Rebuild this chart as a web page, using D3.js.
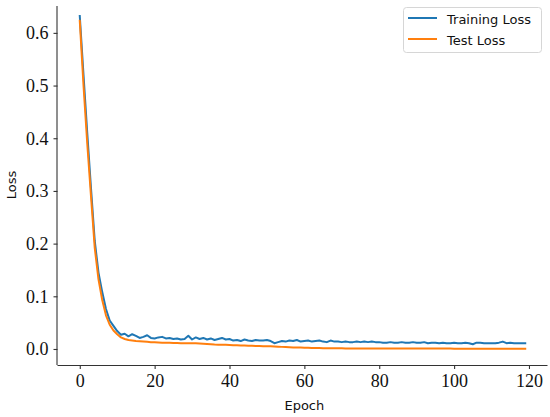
<!DOCTYPE html>
<html>
<head>
<meta charset="utf-8">
<script src="https://cdn.jsdelivr.net/npm/d3@7"></script>
<style>
  body { margin: 0; background: white; }
</style>
</head>
<body>
<div id="graphe"></div>
<script>
// Données
const epochs = d3.range(0, 120);

const trainingLoss = [
  0.632, 0.520, 0.410, 0.305, 0.205, 0.145, 0.108, 0.076, 0.054, 0.044,
  0.034, 0.027, 0.029, 0.024, 0.028, 0.025, 0.021, 0.023, 0.026, 0.021,
  0.020, 0.022, 0.023, 0.020, 0.021, 0.019, 0.020, 0.018, 0.019, 0.025,
  0.018, 0.022, 0.019, 0.021, 0.018, 0.020, 0.017, 0.019, 0.021, 0.018,
  0.019, 0.016, 0.017, 0.015, 0.018, 0.016, 0.015, 0.017, 0.016, 0.016,
  0.017, 0.015, 0.011, 0.013, 0.015, 0.014, 0.016, 0.015, 0.017, 0.014,
  0.015, 0.016, 0.014, 0.015, 0.016, 0.014, 0.013, 0.016, 0.014, 0.014,
  0.013, 0.014, 0.013, 0.013, 0.014, 0.013, 0.014, 0.013, 0.014, 0.013,
  0.013, 0.012, 0.012, 0.013, 0.012, 0.012, 0.013, 0.012, 0.012, 0.013,
  0.012, 0.012, 0.013, 0.011, 0.012, 0.012, 0.011, 0.012, 0.011, 0.011,
  0.012, 0.011, 0.011, 0.012, 0.011, 0.009, 0.012, 0.012, 0.011, 0.011,
  0.011, 0.011, 0.012, 0.014, 0.011, 0.012, 0.011, 0.011, 0.011, 0.011
];

const testLoss = [
  0.623, 0.500, 0.390, 0.290, 0.192, 0.132, 0.093, 0.064, 0.046, 0.035,
  0.028, 0.022, 0.019, 0.017, 0.016, 0.015, 0.0145, 0.014, 0.0135, 0.013,
  0.013, 0.0125, 0.012, 0.012, 0.0118, 0.0115, 0.0112, 0.011, 0.011, 0.0108,
  0.0108, 0.011, 0.0105, 0.010, 0.0095, 0.009, 0.0085, 0.0082, 0.008, 0.0078,
  0.0075, 0.0072, 0.007, 0.0068, 0.0065, 0.0062, 0.006, 0.0058, 0.0056, 0.0054,
  0.0052, 0.005, 0.0047, 0.0044, 0.004, 0.0036, 0.0033, 0.003, 0.0028, 0.0026,
  0.0024, 0.0022, 0.002, 0.0018, 0.0017, 0.0016, 0.0015, 0.0014, 0.0013, 0.0012,
  0.0012, 0.0011, 0.0011, 0.0010, 0.0010, 0.0010, 0.0010, 0.0009, 0.0009, 0.0009,
  0.0009, 0.0009, 0.0008, 0.0008, 0.0008, 0.0008, 0.0008, 0.0008, 0.0008, 0.0007,
  0.0007, 0.0007, 0.0007, 0.0007, 0.0007, 0.0007, 0.0007, 0.0007, 0.0007, 0.0007,
  0.0006, 0.0006, 0.0006, 0.0006, 0.0006, 0.0006, 0.0006, 0.0006, 0.0006, 0.0006,
  0.0006, 0.0006, 0.0006, 0.0006, 0.0006, 0.0006, 0.0006, 0.0006, 0.0006, 0.0006
];

const xTicks = [0, 20, 40, 60, 80, 100, 120];
const yTicks = [0.0, 0.1, 0.2, 0.3, 0.4, 0.5, 0.6];
const seriesNames = ["Training Loss", "Test Loss"];
const seriesColors = ["#1f77b4", "#ff7f0e"];

const largeur = 550, hauteur = 417;

const svg = d3.select("#graphe").append("svg")
  .attr("width", largeur)
  .attr("height", hauteur);

svg.append("rect")
  .attr("width", "100%")
  .attr("height", "100%")
  .attr("fill", "white");

// Échelles (avec la marge de 5% façon matplotlib)
const x = d3.scaleLinear().domain([-5.95, 124.95]).range([57.5, 547.5]);
const y = d3.scaleLinear().domain([-0.0304, 0.651]).range([365, 6]);

// Axe x
const axeX = svg.append("g")
  .attr("transform", "translate(0," + 365 + ")")
  .call(d3.axisBottom(x).tickValues(xTicks).tickSize(4).tickPadding(5).tickFormat(d3.format("d")));

// Axe y
const axeY = svg.append("g")
  .attr("transform", "translate(" + 57.5 + ",0)")
  .call(d3.axisLeft(y).tickValues(yTicks).tickSize(4).tickPadding(5).tickFormat(d3.format(".1f")));

[axeX, axeY].forEach(function(a) {
  a.select(".domain").attr("stroke", "#333").attr("stroke-width", 1.1);
  a.selectAll(".tick line").attr("stroke", "#333").attr("stroke-width", 1.1);
  a.selectAll(".tick text")
    .attr("fill", "#111")
    .style("font-family", "'Liberation Serif', 'Times New Roman', serif")
    .style("font-size", "18px");
});
axeX.select(".domain").attr("d", "M" + 57.5 + ",0.5H" + 547.5);
axeY.select(".domain").attr("d", "M-0.5," + 365 + "V" + 6);

// Titres des axes
svg.append("text")
  .attr("x", x(60))
  .attr("y", 410)
  .attr("text-anchor", "middle")
  .style("font-family", "'DejaVu Sans', sans-serif")
  .style("font-size", "13px")
  .attr("fill", "#111")
  .text("Epoch");

svg.append("text")
  .attr("transform", "translate(15.5,185) rotate(-90)")
  .attr("text-anchor", "middle")
  .style("font-family", "'DejaVu Sans', sans-serif")
  .style("font-size", "13px")
  .attr("fill", "#111")
  .text("Loss");

// Courbes
const ligne = d3.line()
  .x(function(d) { return x(d[0]); })
  .y(function(d) { return y(d[1]); });

[trainingLoss, testLoss].forEach(function(serie, i) {
  svg.append("path")
    .datum(epochs.map(function(e) { return [e, serie[e]]; }))
    .attr("d", ligne)
    .attr("fill", "none")
    .attr("stroke", seriesColors[i])
    .attr("stroke-width", 2)
    .attr("stroke-linejoin", "round")
    .attr("stroke-linecap", "square");
});

// Légende
const legende = svg.append("g");
legende.append("rect")
  .attr("x", 403.5).attr("y", 7.5)
  .attr("width", 138).attr("height", 45)
  .attr("rx", 3)
  .attr("fill", "white")
  .attr("fill-opacity", 0.8)
  .attr("stroke", "#d6d6d6");

seriesNames.forEach(function(nom, i) {
  let ly = 18 + i * 21;
  legende.append("line")
    .attr("x1", 408).attr("x2", 437)
    .attr("y1", ly).attr("y2", ly)
    .attr("stroke", seriesColors[i])
    .attr("stroke-width", 2);
  legende.append("text")
    .attr("x", 447)
    .attr("y", ly + 5.5)
    .style("font-family", "'DejaVu Sans', sans-serif")
    .style("font-size", "13px")
    .attr("fill", "#111")
    .text(nom);
});
</script>
</body>
</html>
